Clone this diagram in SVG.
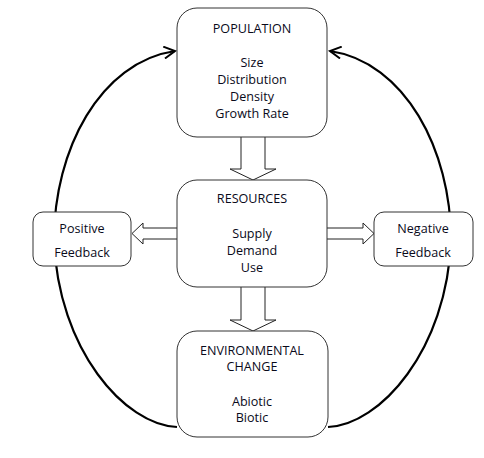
<svg xmlns="http://www.w3.org/2000/svg" width="484" height="458" viewBox="0 0 484 458">
<style>
.box{fill:#fff;stroke:#333;stroke-width:1}
.fat{fill:#fff;stroke:#222;stroke-width:1;stroke-linejoin:miter}
.loop{fill:none;stroke:#000;stroke-width:2.2}
text{font-family:"Open Sans","DejaVu Sans",sans-serif;font-size:12.6px;fill:#0a0a1a;text-anchor:middle}
</style>
<defs>
<marker id="chev" markerWidth="14" markerHeight="14" refX="12" refY="7" orient="auto" markerUnits="userSpaceOnUse">
<path d="M1,1 L12,7 L1,13" fill="none" stroke="#000" stroke-width="2"/>
</marker>
</defs>
<g id="connectors">
<path class="loop" d="M177,427 C125,425 58,350 54,240 C54,150 100,62 175,51" marker-end="url(#chev)"/>
<path class="loop" d="M328,427 C380,425 447,350 451,240 C451,150 405,62 330,51" marker-end="url(#chev)"/>
<path class="fat" d="M241,137 L241,169 L230,169 L253,180 L276,169 L265,169 L265,137"/>
<path class="fat" d="M241,287 L241,320 L230,320 L253,331 L276,320 L265,320 L265,287"/>
<path class="fat" d="M177,228 L143,228 L143,223 L132,233.5 L143,244 L143,239 L177,239"/>
<path class="fat" d="M327,228 L363,228 L363,223 L374,233.5 L363,244 L363,239 L327,239"/>
</g>
<g id="population">
<rect class="box" x="177" y="8" width="150" height="129" rx="20"/>
<text x="252" y="33">POPULATION</text>
<text x="252" y="67">Size</text>
<text x="252" y="84">Distribution</text>
<text x="252" y="101">Density</text>
<text x="252" y="118">Growth Rate</text>
</g>
<g id="resources">
<rect class="box" x="177" y="180" width="150" height="107" rx="20"/>
<text x="252" y="203">RESOURCES</text>
<text x="252" y="238">Supply</text>
<text x="252" y="255">Demand</text>
<text x="252" y="272">Use</text>
</g>
<g id="environmental-change">
<rect class="box" x="177" y="331" width="151" height="106" rx="20"/>
<text x="252" y="355">ENVIRONMENTAL</text>
<text x="252" y="371">CHANGE</text>
<text x="252" y="406">Abiotic</text>
<text x="252" y="422">Biotic</text>
</g>
<g id="positive-feedback">
<rect class="box" x="33" y="212" width="98" height="54" rx="10"/>
<text x="82" y="233">Positive</text>
<text x="82" y="257">Feedback</text>
</g>
<g id="negative-feedback">
<rect class="box" x="374" y="212" width="99" height="54" rx="10"/>
<text x="423" y="233">Negative</text>
<text x="423" y="257">Feedback</text>
</g>
</svg>
